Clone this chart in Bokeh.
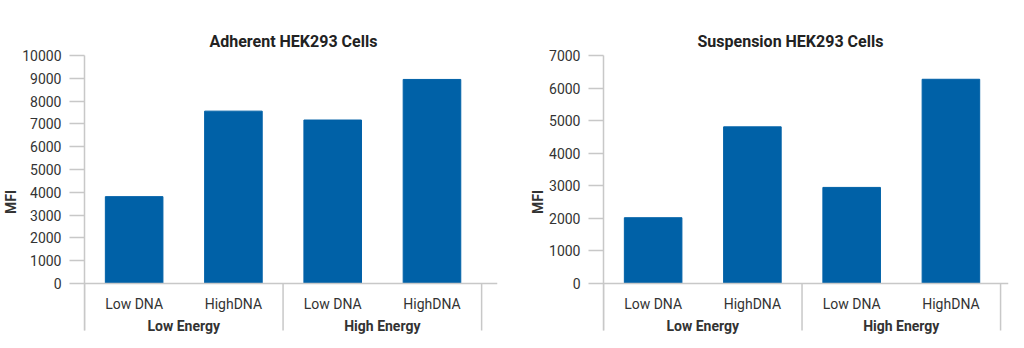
from bokeh.plotting import figure
from bokeh.layouts import row
from bokeh.models import Range1d, FixedTicker, Span, ColumnDataSource
from bokeh.core.properties import value
from bokeh.embed import file_html
from bokeh.resources import INLINE

# ---- data ----
energy_groups = ["Low Energy", "High Energy"]
dna_levels = ["Low DNA", "HighDNA"]
y_axis_label = "MFI"

adherent_title = "Adherent HEK293 Cells"
adherent_mfi = [3810, 7560, 7170, 8950]
adherent_ticks = [0, 1000, 2000, 3000, 4000, 5000, 6000, 7000, 8000, 9000, 10000]

suspension_title = "Suspension HEK293 Cells"
suspension_mfi = [2020, 4810, 2950, 6270]
suspension_ticks = [0, 1000, 2000, 3000, 4000, 5000, 6000, 7000]

# ---- style ----
BAR = "#0061A7"
GRID = "#c8c8c8"
TXT = "#333333"
FONT = "Roboto"
H = 348
TOP = 55      # pixel row of the top tick
ZERO = 283    # pixel row of zero
SEP = 330     # pixel row where separators end
CAT_Y = 303
GRP_Y = 325


def make_chart(title, vals, ticks, width, bl, br, x_end, title_offset):
    ymax = ticks[-1]
    scale = (ZERO - TOP) / ymax
    ymin = -(H - ZERO) / scale
    ysep = -(SEP - ZERO) / scale
    ycat = -(CAT_Y - ZERO) / scale
    ygrp = -(GRP_Y - ZERO) / scale

    p = figure(width=width, height=H, output_backend="svg", toolbar_location=None,
               x_range=Range1d(0, x_end), y_range=Range1d(ymin, ymax),
               min_border_left=bl, min_border_right=br, min_border_top=TOP,
               min_border_bottom=0, title=title)
    p.outline_line_color = None
    p.xgrid.visible = False
    p.ygrid.visible = False
    p.xaxis.visible = False
    p.background_fill_color = "white"
    p.border_fill_color = "white"

    p.title.text_font = FONT
    p.title.text_font_size = "16px"
    p.title.text_font_style = "bold"
    p.title.text_color = "#222222"
    p.title.align = "left"
    p.title.offset = title_offset
    p.title.standoff = 9

    ya = p.yaxis[0]
    ya.ticker = FixedTicker(ticks=ticks)
    ya.bounds = (ysep, ymax)
    ya.axis_line_color = GRID
    ya.axis_line_width = 1.5
    ya.major_tick_line_color = GRID
    ya.major_tick_line_width = 1.5
    ya.major_tick_out = 15
    ya.major_tick_in = 0
    ya.minor_tick_out = 0
    ya.minor_tick_in = 0
    ya.major_label_text_font = FONT
    ya.major_label_text_font_size = "14px"
    ya.major_label_text_color = TXT
    ya.major_label_standoff = 8
    ya.axis_label = y_axis_label
    ya.axis_label_text_font = FONT
    ya.axis_label_text_font_size = "14px"
    ya.axis_label_text_font_style = "bold"
    ya.axis_label_text_color = TXT
    ya.axis_label_standoff = 0

    cats = [d for g in energy_groups for d in dna_levels]
    xs = [i + 0.5 for i in range(len(cats))]
    src = ColumnDataSource(dict(x=xs, top=vals, cat=cats))
    p.vbar(x="x", top="top", bottom=0, width=0.58, source=src,
           fill_color=BAR, line_color=BAR)

    p.add_layout(Span(location=0, dimension="width", line_color=GRID, line_width=1.5))

    n = len(dna_levels)
    seps = [g * n for g in range(len(energy_groups) + 1)]
    p.segment(x0=seps, x1=seps, y0=[0] * len(seps), y1=[ysep] * len(seps),
              line_color=GRID, line_width=1.5)

    p.text(x=xs, y=[ycat] * len(xs), text=cats, text_font=value(FONT),
           text_font_size="14px", text_color=TXT, text_align="center",
           text_baseline="middle")
    gx = [g * n + n / 2 for g in range(len(energy_groups))]
    p.text(x=gx, y=[ygrp] * len(gx), text=energy_groups, text_font=value(FONT),
           text_font_size="14px", text_font_style="bold", text_color=TXT,
           text_align="center", text_baseline="middle")
    return p


left = make_chart(adherent_title, adherent_mfi, adherent_ticks, 520, 83, 23, 4.16, 125)
right = make_chart(suspension_title, suspension_mfi, suspension_ticks, 504, 83, 16, 4.08, 94)

layout = row(left, right)
open("out.html", "w").write(file_html(layout, INLINE))
